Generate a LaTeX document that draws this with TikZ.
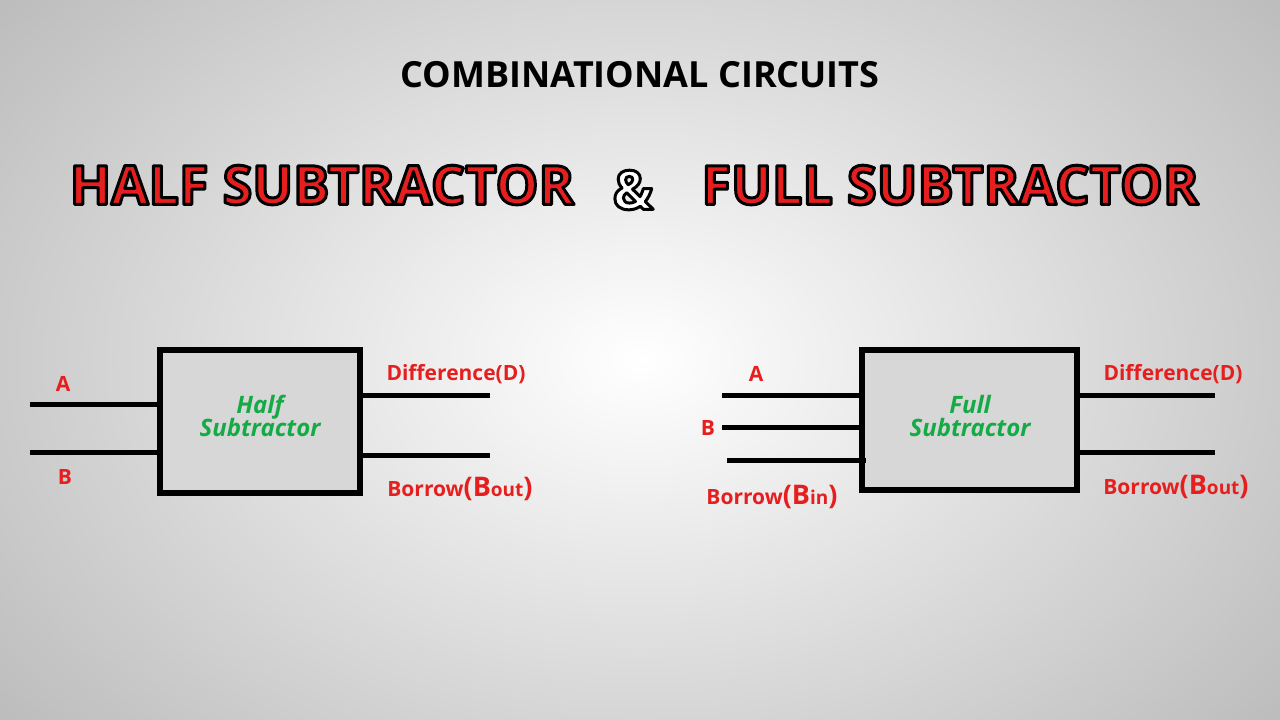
\documentclass[tikz,border=0pt]{standalone}
\usepackage{fontspec}
\setmainfont{Open Sans}
\usetikzlibrary{positioning}
\definecolor{lblred}{RGB}{230,30,30}
\definecolor{boxgreen}{RGB}{20,170,70}
\definecolor{boxfill}{RGB}{215,215,215}
% outlined title text: red fill, black stroke
\newcommand{\outl}[1]{\special{pdf:literal direct 0 0 0 RG 1 j 3 w 2 Tr}#1\special{pdf:literal direct 0 Tr}}
\tikzset{
  wire/.style={line width=5pt,black},
  block/.style={draw,line width=6pt,fill=boxfill},
  lbl/.style={text=lblred,font=\fontsize{21}{24}\selectfont\bfseries},
  inbox/.style={text=boxgreen,font=\fontsize{24}{26}\selectfont\bfseries\itshape,align=center},
  title2/.style={text=lblred,font=\fontsize{54}{60}\selectfont\bfseries}
}
\begin{document}
\begin{tikzpicture}[x=1pt,y=-1pt]
\useasboundingbox (0,0) rectangle (1280,720);
\shade[inner color=white,outer color=black!30] (-300,-300) rectangle (1580,1020);
% titles
\node (title) at (640,75) {\fontsize{36}{40}\selectfont\bfseries COMBINATIONAL CIRCUITS};
\node[title2] (half) at (322,185) {\outl{HALF SUBTRACTOR}};
\node[title2,text=white] (amp) at (633,190) {\outl{\&}};
\node[title2] (full) at (950,185) {\outl{FULL SUBTRACTOR}};
% half subtractor
\draw[block] (160,350) rectangle (360,493);
\node[inbox] (hs) at (260,416) {Half\\[-3pt]Subtractor};
\coordinate (ha) at (30,404); \coordinate (hb) at (30,452);
\coordinate (hd) at (490,395); \coordinate (hbo) at (490,455);
\draw[wire] (ha) -- (160,404);
\draw[wire] (hb) -- (160,452);
\draw[wire] (360,395) -- (hd);
\draw[wire] (360,455) -- (hbo);
\node[lbl] at (63,384) {A};
\node[lbl] at (65,477) {B};
\node[lbl] at (456,374) {Difference(D)};
\node[lbl] at (460,489) {Borrow{\fontsize{27}{28}\selectfont(B}{\fontsize{19}{20}\selectfont out}{\fontsize{27}{28}\selectfont)}};
% full subtractor
\draw[block] (862,350) rectangle (1077,490);
\node[inbox] (fs) at (970,416) {Full\\[-3pt]Subtractor};
\coordinate (fa) at (722,395); \coordinate (fb) at (722,427); \coordinate (fc) at (727,460);
\coordinate (fd) at (1215,395); \coordinate (fbo) at (1215,452);
\draw[wire] (fa) -- (862,395);
\draw[wire] (fb) -- (862,427);
\draw[wire] (fc) -- (866,460);
\draw[wire] (1077,395) -- (fd);
\draw[wire] (1077,452) -- (fbo);
\node[lbl] at (756,374) {A};
\node[lbl] at (708,428) {B};
\node[lbl] at (772,497) {Borrow{\fontsize{27}{28}\selectfont(B}{\fontsize{19}{20}\selectfont in}{\fontsize{27}{28}\selectfont)}};
\node[lbl] at (1173,374) {Difference(D)};
\node[lbl] at (1176,487) {Borrow{\fontsize{27}{28}\selectfont(B}{\fontsize{19}{20}\selectfont out}{\fontsize{27}{28}\selectfont)}};
\end{tikzpicture}
\end{document}
